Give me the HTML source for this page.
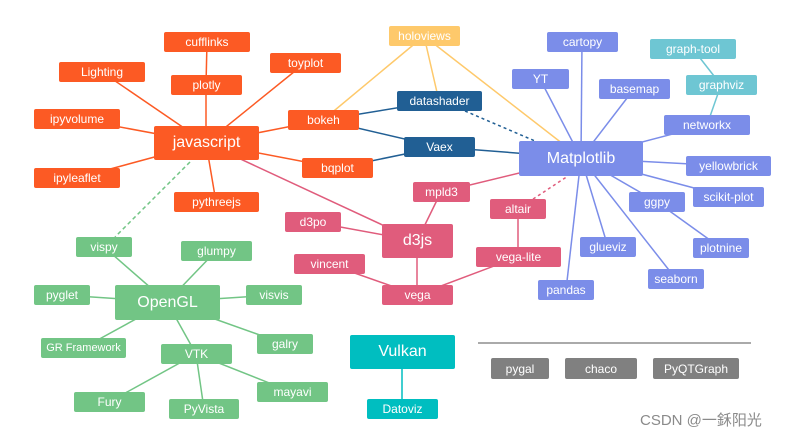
<!DOCTYPE html>
<html><head><meta charset="utf-8"><style>
body{margin:0;width:792px;height:436px;background:#fff;position:relative;overflow:hidden;font-family:"Liberation Sans",sans-serif}
.n{position:absolute;display:flex;align-items:center;justify-content:center;color:#fff;font-size:12px;border-radius:2px;box-sizing:border-box;white-space:nowrap}
.b{font-size:16px}
.o{background:#fc5a24}.p{background:#e05c7c}.u{background:#7b8de9}.t{background:#6ec6d3}.g{background:#72c585}.d{background:#215f94}.y{background:#fec96b}.c{background:#00bec0}.gr{background:#808080}
svg{position:absolute;left:0;top:0}
</style></head><body>
<svg width="792" height="436">
<g stroke-width="1.5" fill="none">
<g stroke="#fc5a24">
<line x1="206" y1="143" x2="102" y2="72"/><line x1="206" y1="143" x2="206" y2="85"/><line x1="206" y1="85" x2="207" y2="42"/>
<line x1="206" y1="143" x2="305" y2="63"/><line x1="206" y1="143" x2="77" y2="119"/><line x1="206" y1="143" x2="77" y2="178"/>
<line x1="206" y1="143" x2="216" y2="202"/><line x1="206" y1="143" x2="323" y2="120"/><line x1="206" y1="143" x2="337" y2="168"/>
</g>
<g stroke="#e05c7c">
<line x1="206" y1="143" x2="417" y2="241"/><line x1="417" y1="241" x2="313" y2="222"/><line x1="417" y1="241" x2="441" y2="192"/>
<line x1="441" y1="192" x2="581" y2="158"/><line x1="417" y1="241" x2="417" y2="295"/><line x1="417" y1="295" x2="329" y2="264"/>
<line x1="417" y1="295" x2="518" y2="257"/><line x1="518" y1="257" x2="518" y2="209"/>
<line x1="518" y1="209" x2="568" y2="176" stroke-dasharray="3,3"/>
</g>
<g stroke="#72c585">
<line x1="190" y1="162" x2="115" y2="237" stroke-dasharray="4,3"/>
<line x1="167" y1="302" x2="104" y2="247"/><line x1="167" y1="302" x2="216" y2="251"/><line x1="167" y1="302" x2="62" y2="295"/>
<line x1="167" y1="302" x2="274" y2="295"/><line x1="167" y1="302" x2="83" y2="348"/><line x1="167" y1="302" x2="196" y2="354"/>
<line x1="167" y1="302" x2="285" y2="344"/><line x1="196" y1="354" x2="109" y2="402"/><line x1="196" y1="354" x2="204" y2="409"/><line x1="196" y1="354" x2="292" y2="392"/>
</g>
<g stroke="#fec96b">
<line x1="424" y1="36" x2="323" y2="120"/><line x1="424" y1="36" x2="439" y2="101"/><line x1="424" y1="36" x2="581" y2="158"/>
</g>
<g stroke="#215f94">
<line x1="323" y1="120" x2="439" y2="101"/><line x1="323" y1="120" x2="439" y2="147"/><line x1="337" y1="168" x2="439" y2="147"/>
<line x1="439" y1="147" x2="581" y2="158"/><line x1="465" y1="111" x2="535" y2="141" stroke-dasharray="3,3"/>
</g>
<g stroke="#7b8de9">
<line x1="581" y1="158" x2="540" y2="79"/><line x1="581" y1="158" x2="582" y2="42"/><line x1="581" y1="158" x2="634" y2="89"/>
<line x1="581" y1="158" x2="707" y2="125"/><line x1="581" y1="158" x2="728" y2="166"/><line x1="581" y1="158" x2="728" y2="197"/>
<line x1="581" y1="158" x2="657" y2="202"/><line x1="581" y1="158" x2="608" y2="247"/><line x1="581" y1="158" x2="676" y2="279"/>
<line x1="581" y1="158" x2="566" y2="290"/><line x1="657" y1="202" x2="721" y2="248"/>
</g>
<g stroke="#6ec6d3"><line x1="707" y1="125" x2="721" y2="85"/><line x1="721" y1="85" x2="693" y2="49"/></g>
<line x1="402" y1="352" x2="402" y2="409" stroke="#00bec0"/>
<line x1="478" y1="343" x2="751" y2="343" stroke="#555" stroke-width="1"/>
</g></svg>
<div class="n o" style="left:164px;top:32px;width:86px;height:20px">cufflinks</div>
<div class="n o" style="left:59px;top:62px;width:86px;height:20px">Lighting</div>
<div class="n o" style="left:270px;top:53px;width:71px;height:20px">toyplot</div>
<div class="n o" style="left:171px;top:75px;width:71px;height:20px">plotly</div>
<div class="n o" style="left:34px;top:109px;width:86px;height:20px">ipyvolume</div>
<div class="n o b" style="left:154px;top:126px;width:105px;height:34px">javascript</div>
<div class="n o" style="left:288px;top:110px;width:71px;height:20px">bokeh</div>
<div class="n o" style="left:302px;top:158px;width:71px;height:20px">bqplot</div>
<div class="n o" style="left:34px;top:168px;width:86px;height:20px">ipyleaflet</div>
<div class="n o" style="left:174px;top:192px;width:85px;height:20px">pythreejs</div>
<div class="n y" style="left:389px;top:26px;width:71px;height:20px">holoviews</div>
<div class="n u" style="left:547px;top:32px;width:71px;height:20px">cartopy</div>
<div class="n t" style="left:650px;top:39px;width:86px;height:20px">graph-tool</div>
<div class="n u" style="left:512px;top:69px;width:57px;height:20px">YT</div>
<div class="n u" style="left:599px;top:79px;width:71px;height:20px">basemap</div>
<div class="n t" style="left:686px;top:75px;width:71px;height:20px">graphviz</div>
<div class="n d" style="left:397px;top:91px;width:85px;height:20px">datashader</div>
<div class="n u" style="left:664px;top:115px;width:86px;height:20px">networkx</div>
<div class="n d" style="left:404px;top:137px;width:71px;height:20px">Vaex</div>
<div class="n u b" style="left:519px;top:141px;width:124px;height:35px">Matplotlib</div>
<div class="n u" style="left:686px;top:156px;width:85px;height:20px">yellowbrick</div>
<div class="n p" style="left:413px;top:182px;width:57px;height:20px">mpld3</div>
<div class="n u" style="left:693px;top:187px;width:71px;height:20px">scikit-plot</div>
<div class="n p" style="left:490px;top:199px;width:56px;height:20px">altair</div>
<div class="n u" style="left:629px;top:192px;width:56px;height:20px">ggpy</div>
<div class="n g" style="left:76px;top:237px;width:56px;height:20px">vispy</div>
<div class="n g" style="left:181px;top:241px;width:71px;height:20px">glumpy</div>
<div class="n p" style="left:285px;top:212px;width:56px;height:20px">d3po</div>
<div class="n p b" style="left:382px;top:224px;width:71px;height:34px">d3js</div>
<div class="n p" style="left:294px;top:254px;width:71px;height:20px">vincent</div>
<div class="n g" style="left:34px;top:285px;width:56px;height:20px">pyglet</div>
<div class="n g b" style="left:115px;top:285px;width:105px;height:35px">OpenGL</div>
<div class="n g" style="left:246px;top:285px;width:56px;height:20px">visvis</div>
<div class="n p" style="left:382px;top:285px;width:71px;height:20px">vega</div>
<div class="n g" style="left:41px;top:338px;width:85px;height:20px;font-size:11px">GR Framework</div>
<div class="n g" style="left:161px;top:344px;width:71px;height:20px">VTK</div>
<div class="n g" style="left:257px;top:334px;width:56px;height:20px">galry</div>
<div class="n c b" style="left:350px;top:335px;width:105px;height:34px">Vulkan</div>
<div class="n g" style="left:74px;top:392px;width:71px;height:20px">Fury</div>
<div class="n g" style="left:169px;top:399px;width:70px;height:20px">PyVista</div>
<div class="n g" style="left:257px;top:382px;width:71px;height:20px">mayavi</div>
<div class="n c" style="left:367px;top:399px;width:71px;height:20px">Datoviz</div>
<div class="n p" style="left:476px;top:247px;width:85px;height:20px">vega-lite</div>
<div class="n u" style="left:580px;top:237px;width:56px;height:20px">glueviz</div>
<div class="n u" style="left:693px;top:238px;width:56px;height:20px">plotnine</div>
<div class="n u" style="left:648px;top:269px;width:56px;height:20px">seaborn</div>
<div class="n u" style="left:538px;top:280px;width:56px;height:20px">pandas</div>
<div class="n gr" style="left:491px;top:358px;width:58px;height:21px">pygal</div>
<div class="n gr" style="left:565px;top:358px;width:72px;height:21px">chaco</div>
<div class="n gr" style="left:653px;top:358px;width:86px;height:21px">PyQTGraph</div>
<div style="position:absolute;left:640px;top:409px;color:#8a8a8a;font-size:15px;font-family:'Liberation Sans','Noto Sans CJK SC',sans-serif">CSDN @一鉌阳光</div>
</body></html>
